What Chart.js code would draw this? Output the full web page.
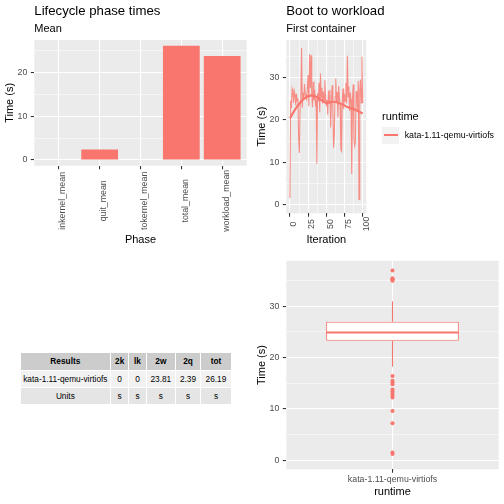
<!DOCTYPE html>
<html>
<head>
<meta charset="utf-8">
<title>Kata lifecycle and boot times</title>
<script src="https://cdn.jsdelivr.net/npm/chart.js@4.4.1/dist/chart.umd.min.js"></script>
<style>
  html, body { margin: 0; padding: 0; background: #ffffff; }
  #page {
    position: relative;
    width: 504px;
    height: 504px;
    overflow: hidden;
    font-family: "Liberation Sans", Arial, sans-serif;
  }
  .panel { position: absolute; }
  .legend-title {
    position: absolute;
    font-size: 11px;
    line-height: 14px;
    color: #000;
    white-space: nowrap;
  }
  .legend-key {
    position: absolute;
    width: 17.3px;
    height: 17.3px;
    background: #F2F2F2;
  }
  .legend-key span {
    position: absolute;
    left: 1.7px;
    right: 1.7px;
    top: 7.6px;
    height: 2.1px;
    background: #F8766D;
  }
  .legend-label {
    position: absolute;
    font-size: 8.8px;
    line-height: 10px;
    color: #000;
    white-space: nowrap;
  }
  #resultsTable {
    position: absolute;
    left: 19.7px;
    top: 351.7px;
    border-collapse: separate;
    border-spacing: 1px;
    font-size: 8.3px;
    color: #000;
  }
  #resultsTable td, #resultsTable th {
    padding: 0;
    text-align: center;
    white-space: nowrap;
    height: 16px;
  }
  #resultsTable th { background: #CCCCCC; font-weight: bold; height: 17px; }
  #resultsTable tr.odd td { background: #F2F2F2; }
  #resultsTable tr.even td { background: #E5E5E5; }
</style>
</head>
<body>
<div id="page">
  <div class="panel" style="left:0;top:0;width:252px;height:252px"><canvas id="phaseChart"></canvas></div>
  <div class="panel" style="left:252px;top:0;width:252px;height:252px"><canvas id="bootChart"></canvas></div>
  <div class="panel" style="left:252px;top:252px;width:252px;height:252px"><canvas id="boxChart"></canvas></div>
  <div id="bootLegend"></div>
  <table id="resultsTable"></table>
</div>

<script>
/* ---------------------------------------------------------------------------
   Data
   --------------------------------------------------------------------------- */

// Lifecycle phase means (seconds)
const phases = ['inkernel_mean', 'quit_mean', 'tokernel_mean', 'total_mean', 'workload_mean'];
const phaseMeans = [0, 2.39, 0, 26.19, 23.81];

// Boot to workload, first container, per iteration
const runtimes = ['kata-1.11-qemu-virtiofs'];
const iterations = [
  0, 1, 2, 3, 4, 5, 6, 7, 8, 9,
  10, 11, 12, 13, 14, 15, 16, 17, 18, 19,
  20, 21, 22, 23, 24, 25, 26, 27, 28, 29,
  30, 31, 32, 33, 34, 35, 36, 37, 38, 39,
  40, 41, 42, 43, 44, 45, 46, 47, 48, 49,
  50, 51, 52, 53, 54, 55, 56, 57, 58, 59,
  60, 61, 62, 63, 64, 65, 66, 67, 68, 69,
  70, 71, 72, 73, 74, 75, 76, 77, 78, 79,
  80, 81, 82, 83, 84, 85, 86, 87, 88, 89,
  90, 91, 92, 93, 94, 95, 96, 97, 98, 99,
  100
];
const bootTimes = [
  1.5, 24.5, 22.8, 27.3, 26.5, 24.0, 26.8, 25.9, 23.5, 26.2,
  24.4, 25.1, 15.5, 12.2, 24.0, 25.6, 37.0, 22.9, 26.4, 24.8,
  28.5, 26.1, 25.5, 24.9, 27.8, 30.6, 23.2, 35.5, 27.5, 35.3,
  26.0, 23.0, 29.0, 24.6, 27.2, 23.8, 24.6, 9.6, 26.3, 24.3,
  28.8, 21.8, 31.0, 25.3, 27.6, 23.9, 26.7, 24.6, 29.4, 25.8,
  23.3, 24.7, 21.3, 26.9, 24.1, 27.1, 18.2, 24.5, 28.2, 23.1,
  13.4, 16.4, 25.4, 29.8, 24.2, 26.6, 20.6, 28.0, 25.2, 23.5,
  13.0, 12.6, 24.9, 27.4, 22.6, 26.2, 24.4, 28.7, 23.9, 35.2,
  25.5, 27.9, 22.1, 26.5, 24.8, 7.2, 24.9, 28.4, 15.2, 13.8,
  14.8, 26.8, 25.7, 22.4, 29.2, 1.2, 27.0, 29.5, 24.0, 35.0,
  24.0
];

// Smoothed trend
const smoothIter = [0, 10, 20, 30, 40, 50, 60, 70, 80, 90, 100];
const smoothTime = [20.4, 23.2, 25.1, 25.8, 25.1, 24.0, 24.3, 23.8, 23.0, 22.4, 21.5];

// Box plot summary for the same runs
const boxQ1 = 23.3;
const boxMedian = 24.9;
const boxQ3 = 27.0;
const whiskerLow = 18.2;
const whiskerHigh = 31.0;
const outliers = [37.0, 35.5, 35.3, 35.2, 35.0, 16.4, 15.5, 15.2, 14.8, 13.8, 13.4, 13.0, 12.6, 12.2, 9.6, 7.2, 1.5, 1.2];

// Tick values
const phaseYMajor = [0, 10, 20];
const phaseYTicks = [0, 5, 10, 15, 20, 25];
const iterMajor = [0, 25, 50, 75, 100];
const iterTicks = [0, 12.5, 25, 37.5, 50, 62.5, 75, 87.5, 100];
const timeMajor = [0, 10, 20, 30];
const timeTicks = [0, 5, 10, 15, 20, 25, 30, 35];

// Results table
const tableHeader = ['Results', '2k', 'lk', '2w', '2q', 'tot'];
const tableRuntimeRow = ['kata-1.11-qemu-virtiofs', '0', '0', '23.81', '2.39', '26.19'];
const tableUnitsRow = ['Units', 's', 's', 's', 's', 's'];
const tableColWidths = [89.3, 17.3, 16.4, 28.3, 24, 30];

/* ---------------------------------------------------------------------------
   Styling helpers (ggplot2 grey theme look)
   --------------------------------------------------------------------------- */

const RED = '#F8766D';
const PANEL_BG = '#EBEBEB';
const TICK_TEXT = '#4D4D4D';

Chart.defaults.font.family = '"Liberation Sans", Arial, sans-serif';
Chart.defaults.animation = false;

function gridFor(majors) {
  const isMajor = (ctx) => ctx.tick && majors.includes(ctx.tick.value);
  return {
    color: '#FFFFFF',
    lineWidth: (ctx) => (isMajor(ctx) ? 1.07 : 0.53),
    tickColor: (ctx) => (isMajor(ctx) ? '#333333' : 'rgba(0,0,0,0)'),
    tickWidth: 1.07,
    tickLength: 3.5,
    drawTicks: true,
    offset: false
  };
}

function yAxis(min, max, tickVals, majors) {
  return {
    type: 'linear',
    min: min,
    max: max,
    border: { display: false },
    grid: gridFor(majors),
    afterBuildTicks: (s) => { s.ticks = tickVals.map(v => ({ value: v })); },
    afterFit: (s) => { s.width = 34.3; },
    ticks: {
      autoSkip: false,
      padding: 3.5,
      color: TICK_TEXT,
      font: { size: 8.8 },
      callback: (v) => (majors.includes(v) ? String(v) : '')
    },
    title: {
      display: true,
      text: 'Time (s)',
      color: '#000',
      font: { size: 11 },
      padding: { top: 3.7, bottom: 0 }
    }
  };
}

// Grey panel behind the plotting area
const panelBackground = {
  id: 'panelBackground',
  beforeDraw(chart) {
    const { ctx, chartArea } = chart;
    ctx.save();
    ctx.fillStyle = PANEL_BG;
    ctx.fillRect(chartArea.left, chartArea.top, chartArea.width, chartArea.height);
    ctx.restore();
  }
};

// Title + subtitle aligned with the panel's left edge
const ggTitles = {
  id: 'ggTitles',
  afterDraw(chart, args, opts) {
    if (!opts || !opts.title) return;
    const { ctx, chartArea } = chart;
    ctx.save();
    ctx.fillStyle = '#000';
    ctx.textAlign = 'left';
    ctx.textBaseline = 'alphabetic';
    ctx.font = '13.2px "Liberation Sans", Arial, sans-serif';
    ctx.fillText(opts.title, chartArea.left, 15);
    if (opts.subtitle) {
      ctx.font = '11px "Liberation Sans", Arial, sans-serif';
      ctx.fillText(opts.subtitle, chartArea.left, 32);
    }
    ctx.restore();
  }
};

// Vertical x tick labels, centred on their own length
const rotatedTicks = {
  id: 'rotatedTicks',
  afterDraw(chart, args, opts) {
    if (!opts || !opts.labels) return;
    const { ctx } = chart;
    const xScale = chart.scales.x;
    ctx.save();
    ctx.fillStyle = TICK_TEXT;
    ctx.font = '8.8px "Liberation Sans", Arial, sans-serif';
    ctx.textAlign = 'center';
    ctx.textBaseline = 'top';
    opts.labels.forEach((label, i) => {
      const px = xScale.getPixelForValue(opts.values[i]);
      ctx.save();
      ctx.translate(px - 0.5, opts.centerY);
      ctx.rotate(-Math.PI / 2);
      ctx.fillText(label, 0, 0);
      ctx.restore();
    });
    ctx.restore();
  }
};

// Whiskers and median for the box
const boxExtras = {
  id: 'boxExtras',
  afterDatasetsDraw(chart) {
    const { ctx } = chart;
    const y = chart.scales.y;
    const bar = chart.getDatasetMeta(0).data[0];
    if (!bar) return;
    const cx = bar.x;
    const half = bar.width / 2;
    ctx.save();
    ctx.strokeStyle = RED;
    ctx.lineWidth = 1.07;
    ctx.beginPath();
    ctx.moveTo(cx, y.getPixelForValue(boxQ3));
    ctx.lineTo(cx, y.getPixelForValue(whiskerHigh));
    ctx.moveTo(cx, y.getPixelForValue(boxQ1));
    ctx.lineTo(cx, y.getPixelForValue(whiskerLow));
    ctx.stroke();
    ctx.lineWidth = 2.13;
    ctx.beginPath();
    ctx.moveTo(cx - half, y.getPixelForValue(boxMedian));
    ctx.lineTo(cx + half, y.getPixelForValue(boxMedian));
    ctx.stroke();
    ctx.restore();
  }
};

/* ---------------------------------------------------------------------------
   Lifecycle phase times (bar)
   --------------------------------------------------------------------------- */

const phaseX = phases.map((p, i) => i + 1);

new Chart(document.getElementById('phaseChart'), {
  type: 'bar',
  data: {
    datasets: [{
      data: phaseMeans.map((v, i) => ({ x: phaseX[i], y: v })),
      backgroundColor: RED,
      borderWidth: 0,
      barPercentage: 0.9,
      categoryPercentage: 1
    }]
  },
  options: {
    responsive: true,
    maintainAspectRatio: false,
    layout: { padding: { top: 40, right: 5.3, left: 0, bottom: 0 } },
    plugins: {
      legend: { display: false },
      tooltip: { enabled: false },
      ggTitles: { title: 'Lifecycle phase times', subtitle: 'Mean' },
      rotatedTicks: { labels: phases, values: phaseX, centerY: 200.8 }
    },
    scales: {
      x: {
        type: 'linear',
        min: 0.4,
        max: 5.6,
        offset: false,
        border: { display: false },
        grid: gridFor(phaseX),
        afterBuildTicks: (s) => { s.ticks = phaseX.map(v => ({ value: v })); },
        afterFit: (s) => { s.height = 86.3; },
        ticks: { display: false, autoSkip: false },
        title: {
          display: true,
          text: 'Phase',
          color: '#000',
          font: { size: 11 },
          padding: { top: 0, bottom: 5.4 }
        }
      },
      y: yAxis(-1.31, 27.5, phaseYTicks, phaseYMajor)
    }
  },
  plugins: [panelBackground, ggTitles, rotatedTicks]
});

/* ---------------------------------------------------------------------------
   Boot to workload (line + smooth)
   --------------------------------------------------------------------------- */

new Chart(document.getElementById('bootChart'), {
  type: 'line',
  data: {
    datasets: [
      {
        label: runtimes[0] + ' trend',
        data: smoothIter.map((x, i) => ({ x: x, y: smoothTime[i] })),
        borderColor: RED,
        borderWidth: 2.13,
        pointRadius: 0,
        cubicInterpolationMode: 'monotone',
        order: 0
      },
      {
        label: runtimes[0],
        data: iterations.map((x, i) => ({ x: x, y: bootTimes[i] })),
        borderColor: 'rgba(248, 118, 109, 0.82)',
        borderWidth: 1.07,
        pointRadius: 0,
        tension: 0,
        order: 1
      }
    ]
  },
  options: {
    responsive: true,
    maintainAspectRatio: false,
    // legend sits in the wide right margin
    layout: { padding: { top: 40, right: 137.7, left: 0, bottom: 0 } },
    plugins: {
      legend: { display: false },
      tooltip: { enabled: false },
      ggTitles: { title: 'Boot to workload', subtitle: 'First container' },
      rotatedTicks: { labels: iterMajor.map(String), values: iterMajor, centerY: 224 }
    },
    scales: {
      x: {
        type: 'linear',
        min: -5,
        max: 105,
        border: { display: false },
        grid: gridFor(iterMajor),
        afterBuildTicks: (s) => { s.ticks = iterTicks.map(v => ({ value: v })); },
        afterFit: (s) => { s.height = 38.7; },
        ticks: { display: false, autoSkip: false },
        title: {
          display: true,
          text: 'Iteration',
          color: '#000',
          font: { size: 11 },
          padding: { top: 0, bottom: 5.4 }
        }
      },
      y: yAxis(-2.1, 38.9, timeTicks, timeMajor)
    }
  },
  plugins: [panelBackground, ggTitles, rotatedTicks]
});

// Legend for the runtime colour
(function buildLegend() {
  const holder = document.getElementById('bootLegend');
  const title = document.createElement('div');
  title.className = 'legend-title';
  title.style.left = '382px';
  title.style.top = '108.5px';
  title.textContent = 'runtime';
  holder.appendChild(title);
  runtimes.forEach((name, i) => {
    const top = 126.7 + i * 17.3;
    const key = document.createElement('div');
    key.className = 'legend-key';
    key.style.left = '382px';
    key.style.top = top + 'px';
    key.appendChild(document.createElement('span'));
    holder.appendChild(key);
    const label = document.createElement('div');
    label.className = 'legend-label';
    label.style.left = '404.7px';
    label.style.top = (top + 3.6) + 'px';
    label.textContent = name;
    holder.appendChild(label);
  });
})();

/* ---------------------------------------------------------------------------
   Boot time distribution (box plot)
   --------------------------------------------------------------------------- */

new Chart(document.getElementById('boxChart'), {
  type: 'bar',
  data: {
    labels: runtimes,
    datasets: [
      {
        data: [[boxQ1, boxQ3]],
        backgroundColor: '#FFFFFF',
        borderColor: RED,
        borderWidth: 1.07,
        borderSkipped: false,
        barPercentage: 0.625,
        categoryPercentage: 1,
        order: 1
      },
      {
        type: 'scatter',
        data: outliers.map(v => ({ x: runtimes[0], y: v })),
        backgroundColor: RED,
        borderWidth: 0,
        pointRadius: 2,
        order: 0
      }
    ]
  },
  options: {
    responsive: true,
    maintainAspectRatio: false,
    layout: { padding: { top: 4.7, right: 5.3, left: 0, bottom: 0 } },
    plugins: {
      legend: { display: false },
      tooltip: { enabled: false }
    },
    scales: {
      x: {
        type: 'category',
        offset: true,
        border: { display: false },
        grid: {
          color: '#FFFFFF',
          lineWidth: 1.07,
          tickColor: '#333333',
          tickWidth: 1.07,
          tickLength: 3.5,
          offset: false
        },
        afterFit: (s) => { s.height = 34.7; },
        ticks: {
          color: TICK_TEXT,
          font: { size: 8.8 },
          padding: 1.2,
          maxRotation: 0,
          autoSkip: false
        },
        title: {
          display: true,
          text: 'runtime',
          color: '#000',
          font: { size: 11 },
          padding: { top: 0, bottom: 5.7 }
        }
      },
      y: yAxis(-1.8, 38.9, timeTicks, timeMajor)
    }
  },
  plugins: [panelBackground, boxExtras]
});

/* ---------------------------------------------------------------------------
   Results table
   --------------------------------------------------------------------------- */

(function buildTable() {
  const table = document.getElementById('resultsTable');
  const head = document.createElement('tr');
  tableHeader.forEach((text, i) => {
    const th = document.createElement('th');
    th.style.width = tableColWidths[i] + 'px';
    th.textContent = text;
    head.appendChild(th);
  });
  table.appendChild(head);
  [tableRuntimeRow, tableUnitsRow].forEach((row, r) => {
    const tr = document.createElement('tr');
    tr.className = r % 2 === 0 ? 'odd' : 'even';
    row.forEach((text) => {
      const td = document.createElement('td');
      td.textContent = text;
      tr.appendChild(td);
    });
    table.appendChild(tr);
  });
})();
</script>
</body>
</html>
